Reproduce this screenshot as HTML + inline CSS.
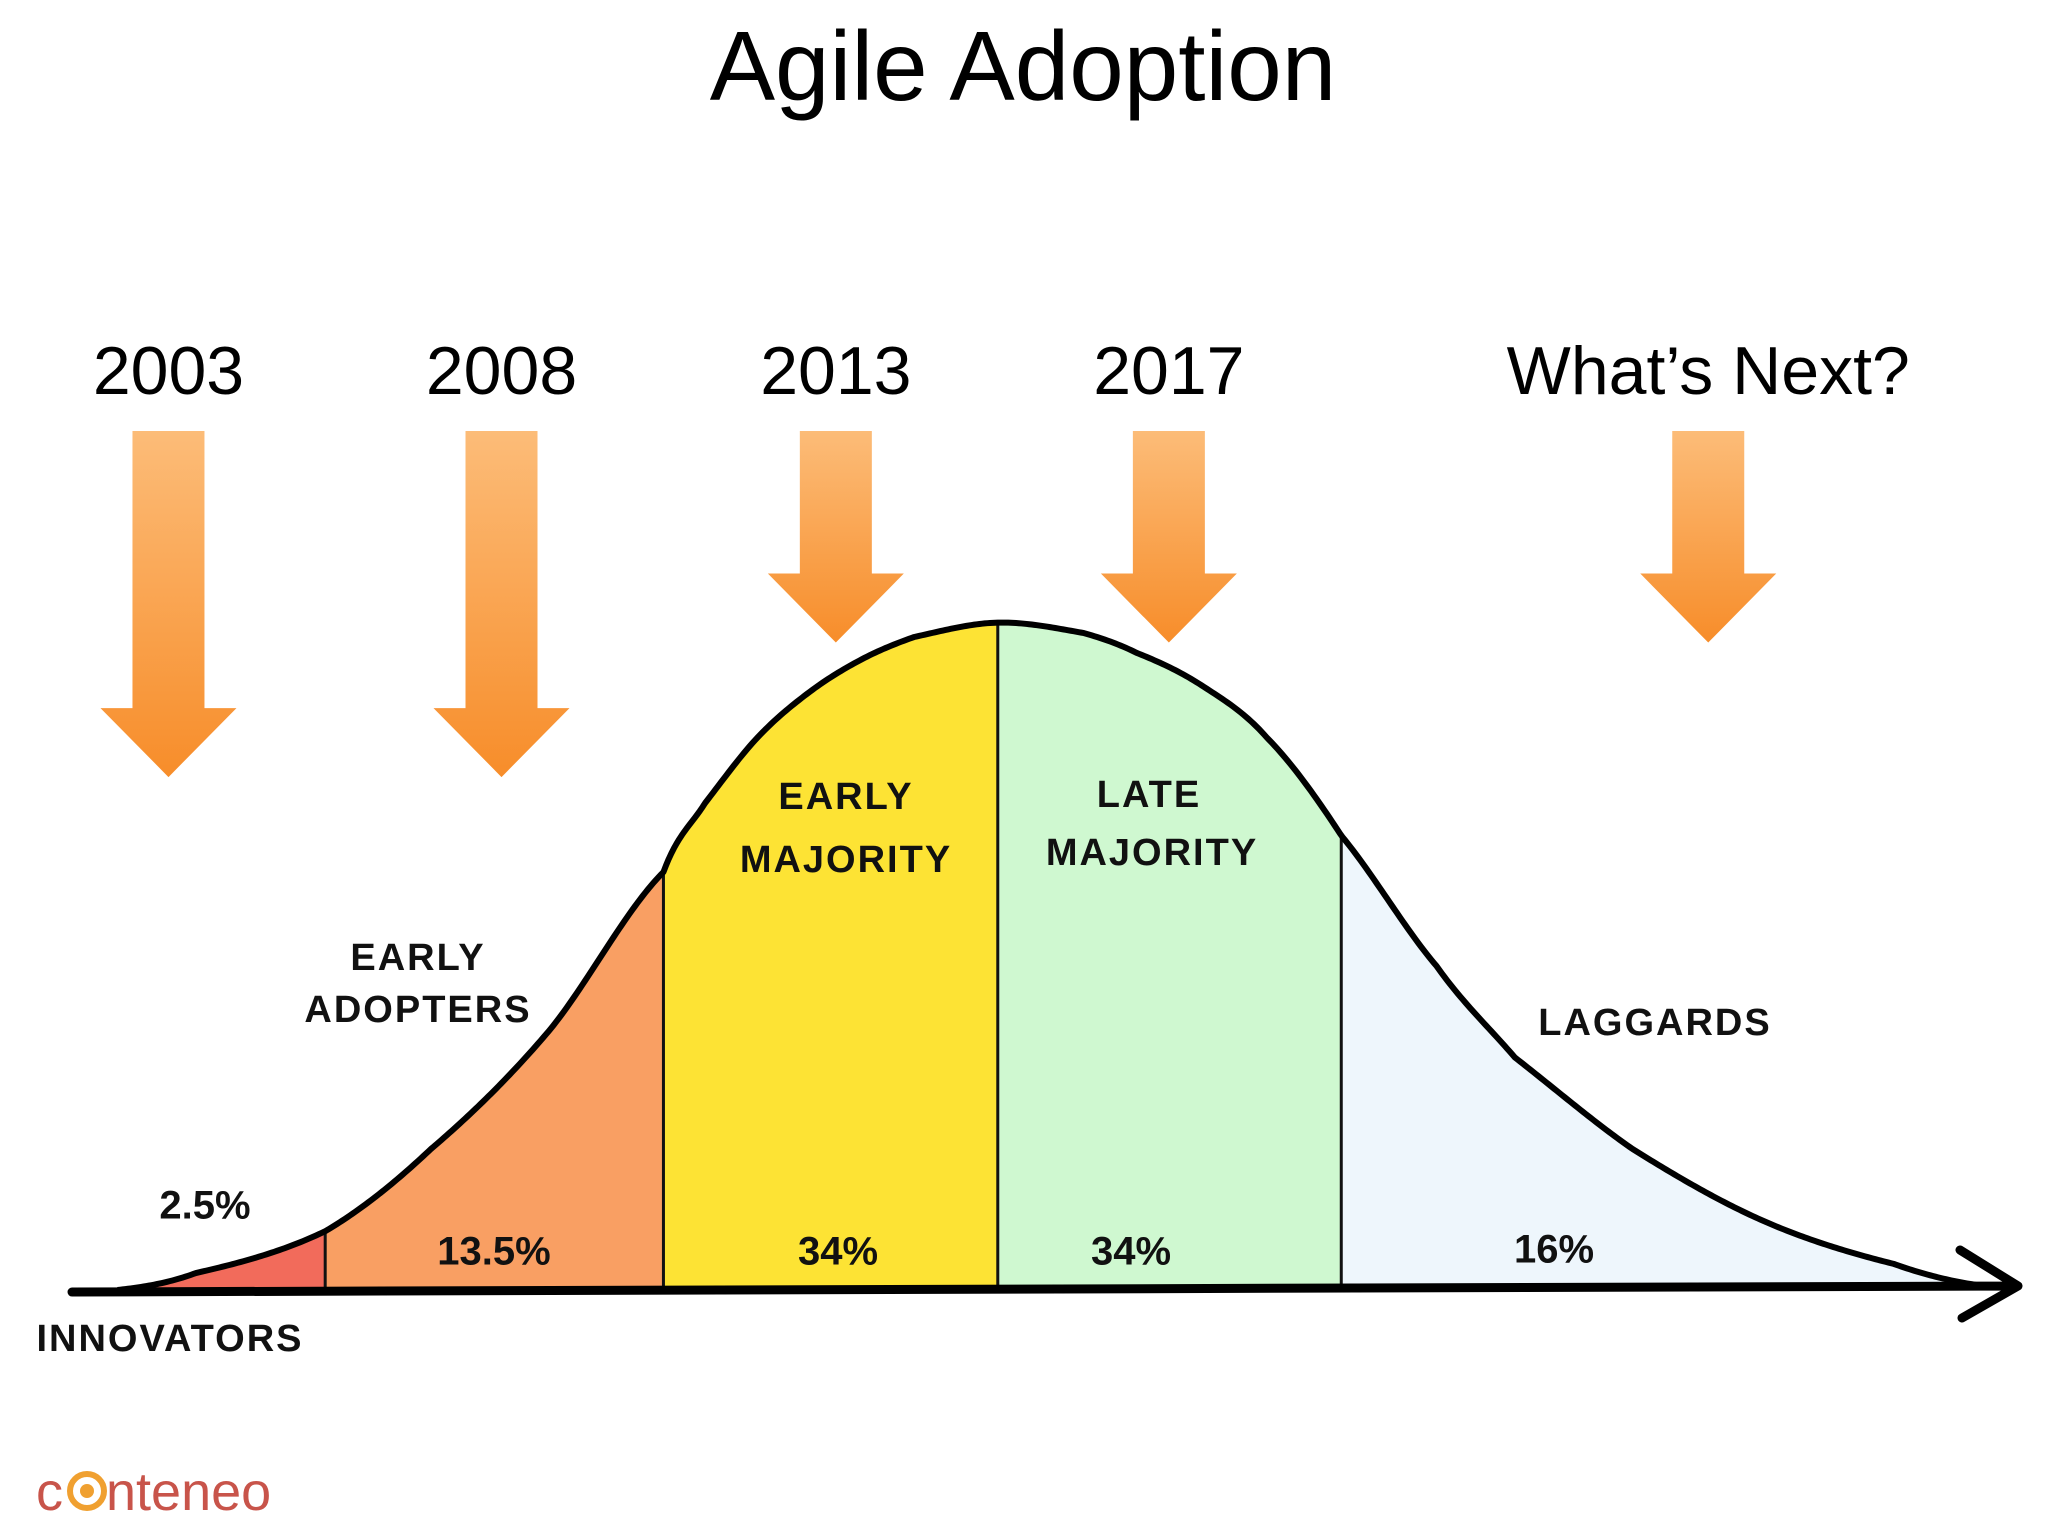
<!DOCTYPE html>
<html><head><meta charset="utf-8"><style>
html,body{margin:0;padding:0;background:#fff;}
svg{display:block;}
text{font-family:"Liberation Sans",sans-serif;}
</style></head><body>
<svg id="chart" width="2048" height="1536" viewBox="0 0 2048 1536" xmlns="http://www.w3.org/2000/svg">
<defs>
<linearGradient id="ag" x1="0" y1="0" x2="0" y2="1">
<stop offset="0" stop-color="#fcbc78"/><stop offset="1" stop-color="#f78d2a"/>
</linearGradient>
</defs>
<text x="1023" y="100" font-size="98" text-anchor="middle" fill="#000">Agile Adoption</text>
<g id="fills"></g>
<g id="arrows"></g>
<g id="labels"></g>
<g>
<text x="36" y="1510" font-size="54" fill="#c8544a">c</text>
<circle cx="87" cy="1491" r="17" fill="none" stroke="#f0a030" stroke-width="6"/>
<circle cx="87" cy="1491" r="7" fill="#f0a030"/>
<text x="106" y="1510" font-size="54" fill="#c8544a">nteneo</text>
</g>
</svg>
<script>
// curve samples: x position (reference units), height above axis (reference units)
const curveX = [90,150,249,330,420,508,540,580,620,660,700,764,830,870,920,970,1027,1100,1160,1250,1350,1450,1520];
const curveH = [0,13,45,108,198,320,373,423,458,483,500,511,503,488,463,423,348,248,178,108,53,20,3];
const segBounds = [90,249,508,764,1027,1520];
const segNames = ['innovators','early-adopters','early-majority','late-majority','laggards'];
const segPct = ['2.5%','13.5%','34%','34%','16%'];
const years = ['2003','2008','2013','2017','What\u2019s Next?'];
const yearX = [129,384,640,895,1308];
const arrowTip = [595,595,492,492,492];

const S = 1.306, AX = 1290;
const X = v => v*S;
const Y = h => AX - h*S;
const ns = 'http://www.w3.org/2000/svg';
function mk(tag, attrs, parent){const e=document.createElementNS(ns,tag);for(const k in attrs)e.setAttribute(k,attrs[k]);parent.appendChild(e);return e;}
function hAt(x){for(let i=0;i<curveX.length-1;i++){if(x>=curveX[i]&&x<=curveX[i+1]){const t=(x-curveX[i])/(curveX[i+1]-curveX[i]);const a=curveH[Math.max(i-1,0)],b=curveH[i],c=curveH[i+1],d=curveH[Math.min(i+2,curveH.length-1)];return 0.5*((2*b)+(-a+c)*t+(2*a-5*b+4*c-d)*t*t+(-a+3*b-3*c+d)*t*t*t);}}return 0;}
const colors=['#f26b5b','#f99f63','#fde334','#cff8d0','#eef6fc'];
const fills=document.getElementById('fills');
for(let s=0;s<5;s++){
  let d='M'+X(segBounds[s])+','+AX;
  for(let x=segBounds[s];x<=segBounds[s+1];x+=2)d+=' L'+X(x)+','+Y(hAt(x));
  d+=' L'+X(segBounds[s+1])+','+Y(hAt(segBounds[s+1]))+' L'+X(segBounds[s+1])+','+AX+'Z';
  const p=mk('path',{d:d,fill:colors[s],stroke:'none'},fills);
  
  
}
for(let s=1;s<5;s++){
  const l=mk('line',{x1:X(segBounds[s]),y1:AX,x2:X(segBounds[s]),y2:Y(hAt(segBounds[s])),stroke:'#111','stroke-width':3},fills);
  
  
}
let cd='M'+X(curveX[0])+','+AX;
for(let x=curveX[0];x<=curveX[curveX.length-1];x+=2)cd+=' L'+X(x)+','+Y(hAt(x));
const cp=mk('path',{d:cd,fill:'none',stroke:'#000','stroke-width':6,'stroke-linejoin':'round'},fills);


const ax=mk('path',{d:'M72,1292 L2018,1286 M1960,1250 L2018,1286 L1962,1318',fill:'none',stroke:'#000','stroke-width':9,'stroke-linecap':'round','stroke-linejoin':'round'},fills);



const arrows=document.getElementById('arrows');
for(let i=0;i<5;i++){
  const cx=X(yearX[i]), tip=X(arrowTip[i]), ht=tip-69, top=431;
  const g=mk('path',{d:`M${cx-36},${top} L${cx+36},${top} L${cx+36},${ht} L${cx+68},${ht} L${cx},${tip} L${cx-68},${ht} L${cx-36},${ht}Z`,fill:'url(#ag)'},arrows);
  
  
  const t=mk('text',{x:cx,y:394,'font-size':68,'text-anchor':'middle',fill:'#000'},arrows);
  t.textContent=years[i];
  
  
}
const labels=document.getElementById('labels');
const lab=[['EARLY',418,960],['ADOPTERS',418,1012],['EARLY',846,799],['MAJORITY',846,862],['LATE',1149,797],['MAJORITY',1152,855],['LAGGARDS',1655,1025],['INNOVATORS',170,1341]];
lab.forEach((l,i)=>{
  const t=mk('text',{x:l[1],y:l[2],'font-size':38,'font-weight':'bold','text-anchor':'middle','dominant-baseline':'middle',fill:'#111','letter-spacing':2},labels);
  t.textContent=l[0];
  
  
});
const pctPos=[[205,1208],[494,1254],[838,1254],[1131,1254],[1554,1252]];
segPct.forEach((p,i)=>{
  const t=mk('text',{x:pctPos[i][0],y:pctPos[i][1],'font-size':40,'font-weight':'bold','text-anchor':'middle','dominant-baseline':'middle',fill:'#111'},labels);
  t.textContent=p;
  
  
});
</script>
</body></html>
